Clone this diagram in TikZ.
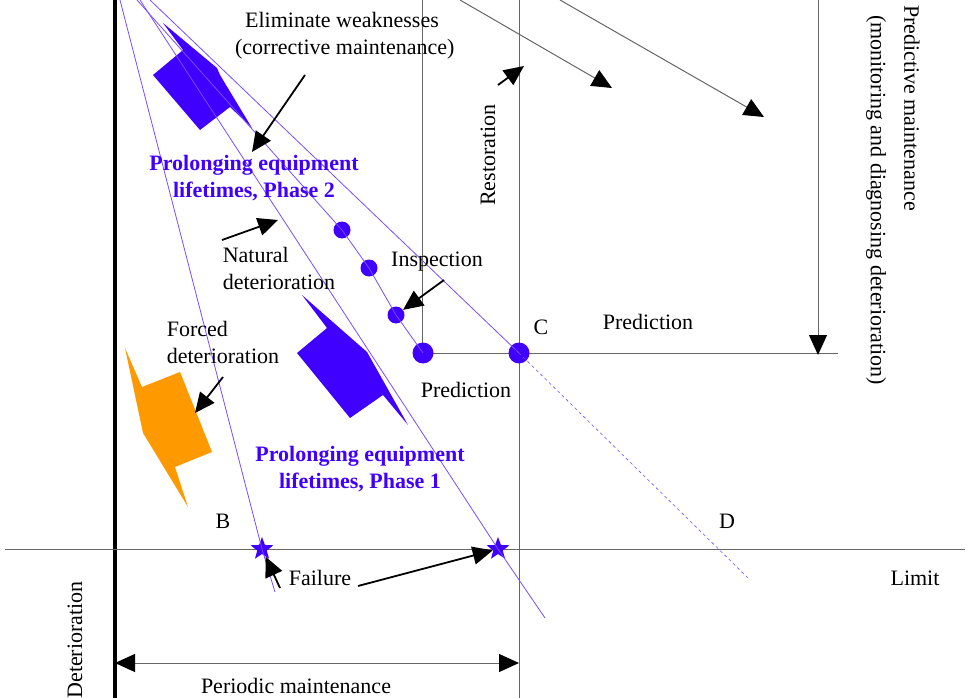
\documentclass[tikz,border=0pt]{standalone}
\usepackage{fontspec}
\setmainfont{Liberation Serif}
\usetikzlibrary{arrows.meta,shapes.geometric}
\definecolor{vio}{HTML}{4000FF}
\definecolor{org}{HTML}{FF9900}
\begin{document}
\begin{tikzpicture}[x=1pt,y=-1pt,>={Triangle[length=20pt,width=18pt,fill=black,color=black]},
    thin line/.style={draw=gray!80!black,line width=1pt},
    blue line/.style={draw=vio!70,line width=0.8pt},
    call/.style={->,line width=1.8pt},
    lbl/.style={font=\fontsize{22}{27}\selectfont,align=center,inner sep=0pt},
    phase/.style={lbl,text=vio,font=\fontsize{22}{27}\selectfont\bfseries},
    dot/.style={circle,fill=vio,inner sep=0pt,minimum size=#1},
    star mark/.style={star,star points=5,star point ratio=2.4,fill=vio,inner sep=0pt,minimum size=24pt}]
  \useasboundingbox (0,0) rectangle (969,698);
  % axes and guide lines
  \draw[line width=4pt] (115,0) -- (115,698);
  \draw[thin line] (5,549) -- (965,549);
  \draw[thin line] (519,0) -- (519,698);
  \draw[thin line] (422,0) -- (422,353);
  \draw[thin line] (422,353) -- (838,353);
  \coordinate (pTop) at (818,0);
  \coordinate (pEnd) at (818,355);
  \draw[thin line,->] (pTop) -- (pEnd);
  \coordinate (a1) at (460,0);  \coordinate (a1e) at (612,88);
  \coordinate (a2) at (560,0);  \coordinate (a2e) at (764,117);
  \draw[thin line,->] (a1) -- (a1e);
  \draw[thin line,->] (a2) -- (a2e);
  % shapes
  \fill[vio] (163,23) -- (217,68) -- (220,75) -- (252,128) -- (230,107) -- (200,130) -- (153,75) -- (183,50) -- cycle;
  \fill[vio] (302,295) -- (367,352) -- (408,425) -- (383,395) -- (350,418) -- (297,353) -- (327,328) -- cycle;
  \fill[org] (125,348) -- (142,387) -- (180,372) -- (212,452) -- (175,467) -- (188,507) -- (143,433) -- cycle;
  % points
  \node[dot=17pt] (i1) at (342,230) {};
  \node[dot=17pt] (i2) at (369,268) {};
  \node[dot=17pt] (i3) at (396,315) {};
  \node[dot=21pt] (p1) at (423,353) {};
  \node[dot=21pt] (c) at (519,353) {};
  \node[star mark] (f1) at (262,549) {};
  \node[star mark] (f2) at (498,549) {};
  \coordinate (o1) at (120,0); \coordinate (e1) at (275,592);
  \coordinate (o2) at (140,0); \coordinate (e2) at (545,618);
  \coordinate (o3) at (137,0);
  \coordinate (o4) at (150,0); \coordinate (e4) at (748,578);
  \draw[blue line] (o1) -- (f1.center) -- (e1);
  \draw[blue line] (o2) -- (f2.center) -- (e2);
  \draw[blue line] (o3) -- (i1.center) -- (i2.center) -- (i3.center) -- (p1.center);
  \draw[blue line] (o4) -- (c.center);
  \draw[blue line,dashed,line width=0.6pt] (c.center) -- (e4);
  % labels
  \node[lbl] (elim) at (342,36) {Eliminate weaknesses\\ \ (corrective maintenance)};
  \node[phase] (ph2) at (254,178) {Prolonging equipment\\lifetimes, Phase 2};
  \node[lbl,align=left] (nat) at (279,268) {Natural\\deterioration};
  \node[lbl] (insp) at (437,262) {Inspection};
  \node[lbl,align=left] (forc) at (223,342) {Forced\\deterioration};
  \node[lbl] (pred1) at (466,390) {Prediction};
  \node[lbl] (pred2) at (648,322) {Prediction};
  \node[lbl] (cl) at (541,327) {C};
  \node[phase] (ph1) at (360,469) {Prolonging equipment\\lifetimes, Phase 1};
  \node[lbl] (bl) at (223,521) {B};
  \node[lbl] (dl) at (727,521) {D};
  \node[lbl] (fail) at (320,578) {Failure};
  \node[lbl] (lim) at (915,578) {Limit};
  \node[lbl] (per) at (296,686) {Periodic maintenance};
  \node[lbl,rotate=90] (det) at (75,640) {Deterioration};
  \node[lbl,rotate=90] (rest) at (488,155) {Restoration};
  \node[lbl,rotate=-90] (pm) at (912,108) {Predictive maintenance};
  \node[lbl,rotate=-90] (mon) at (876,200) {(monitoring and diagnosing deterioration)};
  % callouts
  \coordinate (r0) at (498,85); \coordinate (r1) at (524,66);
  \draw[call] (r0) -- (r1);
  \coordinate (el0) at (305,75); \coordinate (el1) at (252,152);
  \draw[call] (el0) -- (el1);
  \coordinate (n0) at (222,240); \coordinate (n1) at (278,220);
  \draw[call] (n0) -- (n1);
  \coordinate (in0) at (444,280);
  \draw[call] (in0) -- (i3);
  \coordinate (fo0) at (223,377); \coordinate (fo1) at (195,413);
  \draw[call] (fo0) -- (fo1);
  \coordinate (fa0) at (280,588); \coordinate (fa1) at (358,586);
  \draw[call] (fa0) -- (f1);
  \draw[call] (fa1) -- (f2);
  \coordinate (pm0) at (115,663); \coordinate (pm1) at (519,663);
  \draw[thin line,<->] (pm0) -- (pm1);
\end{tikzpicture}
\end{document}
